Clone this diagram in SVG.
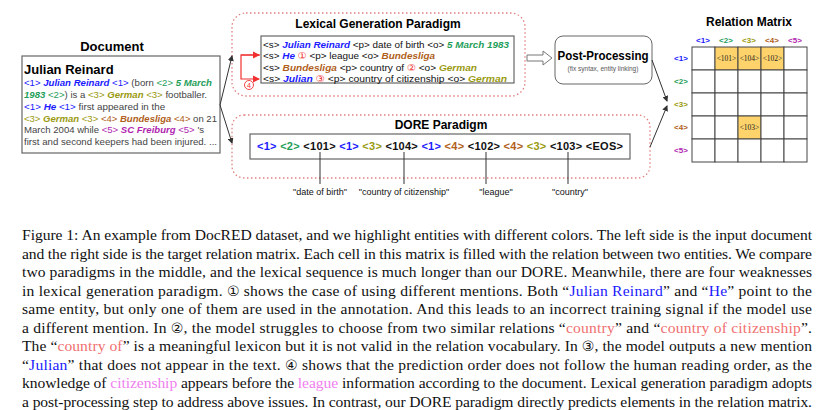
<svg xmlns="http://www.w3.org/2000/svg" width="832" height="410" viewBox="0 0 832 410">
<defs>
<style>
.s{font-family:"Liberation Sans",Arial,sans-serif}
.b{font-weight:bold}
.i{font-style:italic;font-weight:bold}
.bl{fill:#1a1aff}.gr{fill:#1f9e5a}.ol{fill:#9a9a10}.br{fill:#b0601a}.mg{fill:#b01fb0}.gy{fill:#444}
.box{fill:#fff;stroke:#666;stroke-width:1.2}
.dot{fill:none;stroke:#e08080;stroke-width:1.3;stroke-dasharray:1.5 2.5}
.cap{font-family:"Liberation Serif","Times New Roman",serif;font-size:15.6px;fill:#111}
.cell{fill:#fff;stroke:#444;stroke-width:1}
.hl{fill:#ffd36b;stroke:#444;stroke-width:1}
.ln{stroke:#333;stroke-width:1;fill:none}
.red{stroke:#f03030;stroke-width:1.2;fill:none}
</style>
<marker id="ah" markerWidth="6" markerHeight="6" refX="5" refY="3" orient="auto"><path d="M0,0 L6,3 L0,6 z" fill="#333"/></marker>
<marker id="ar" markerWidth="6" markerHeight="6" refX="5" refY="3" orient="auto"><path d="M0,0 L6,3 L0,6 z" fill="#f03030"/></marker>
</defs>
<rect width="832" height="410" fill="#fff"/>

<g id="document" class="s">
<text x="112" y="51" font-size="13" class="b" text-anchor="middle">Document</text>
<rect class="box" x="22" y="56" width="198" height="97"/>
<text x="24" y="74" font-size="13" class="b">Julian Reinard</text>
<g font-size="9.8" fill="#444">
<text x="24" y="86" textLength="188" lengthAdjust="spacingAndGlyphs"><tspan class="bl">&lt;1&gt; </tspan><tspan class="bl i">Julian Reinard</tspan><tspan class="bl"> &lt;1&gt;</tspan> (born <tspan class="gr">&lt;2&gt; </tspan><tspan class="gr i">5 March</tspan></text>
<text x="24" y="98" textLength="183" lengthAdjust="spacingAndGlyphs"><tspan class="gr i">1983</tspan><tspan class="gr"> &lt;2&gt;</tspan>) is a <tspan class="ol">&lt;3&gt; </tspan><tspan class="ol i">German</tspan><tspan class="ol"> &lt;3&gt;</tspan> footballer.</text>
<text x="24" y="110"><tspan class="bl">&lt;1&gt; </tspan><tspan class="bl i">He</tspan><tspan class="bl"> &lt;1&gt;</tspan> first appeared in the</text>
<text x="24" y="122" textLength="193" lengthAdjust="spacingAndGlyphs"><tspan class="ol">&lt;3&gt; </tspan><tspan class="ol i">German</tspan><tspan class="ol"> &lt;3&gt;</tspan> <tspan class="br">&lt;4&gt; </tspan><tspan class="br i">Bundesliga</tspan><tspan class="br"> &lt;4&gt;</tspan> on 21</text>
<text x="24" y="133" textLength="180" lengthAdjust="spacingAndGlyphs">March 2004 while <tspan class="mg">&lt;5&gt; </tspan><tspan class="mg i">SC Freiburg</tspan><tspan class="mg"> &lt;5&gt;</tspan> 's</text>
<text x="24" y="145" textLength="193" lengthAdjust="spacingAndGlyphs">first and second keepers had been injured. ...</text>
</g>
</g>

<g id="lexical" class="s">
<rect class="dot" x="232" y="13" width="293" height="83" rx="14"/>
<text x="378" y="28" font-size="12" class="b" text-anchor="middle">Lexical Generation Paradigm</text>
<rect class="box" x="261" y="36" width="253" height="47"/>
<g font-size="9.5" fill="#111">
<text x="263" y="48" textLength="246" lengthAdjust="spacingAndGlyphs">&lt;s&gt; <tspan class="bl i">Julian Reinard</tspan> &lt;p&gt; date of birth &lt;o&gt; <tspan class="gr i">5 March 1983</tspan></text>
<text x="263" y="59" textLength="172" lengthAdjust="spacingAndGlyphs">&lt;s&gt; <tspan class="bl i">He</tspan> <tspan fill="#f03030" font-family="DejaVu Sans">①</tspan> &lt;p&gt;  league &lt;o&gt; <tspan class="br i">Bundesliga</tspan></text>
<text x="263" y="71" textLength="214" lengthAdjust="spacingAndGlyphs">&lt;s&gt; <tspan class="br i">Bundesliga</tspan>  &lt;p&gt; country of <tspan fill="#f03030" font-family="DejaVu Sans">②</tspan> &lt;o&gt; <tspan class="ol i">German</tspan></text>
<text x="263" y="82" textLength="244" lengthAdjust="spacingAndGlyphs">&lt;s&gt; <tspan class="bl i">Julian</tspan> <tspan fill="#f03030" font-family="DejaVu Sans">③</tspan> &lt;p&gt; country of citizenship &lt;o&gt; <tspan class="ol i">German</tspan></text>
</g>
<path class="red" d="M260,55 H241 V79 H259" marker-end="url(#ar)"/>
<path class="red" d="M241,55 H259" marker-end="url(#ar)"/>
<circle cx="249" cy="85" r="4.5" fill="#fff" stroke="#f03030" stroke-width="0.9"/>
<text x="249" y="88" font-size="7" fill="#f03030" text-anchor="middle">4</text>
</g>

<g id="postprocessing" class="s">
<rect x="555" y="36" width="97" height="48" rx="8" fill="#fff" stroke="#666" stroke-width="1"/>
<text x="603" y="60" font-size="12" class="b" text-anchor="middle" textLength="91" lengthAdjust="spacingAndGlyphs">Post-Processing</text>
<text x="603" y="71" font-size="6.5" fill="#555" text-anchor="middle">(fix syntax, entity linking)</text>
</g>

<g id="dore" class="s">
<rect class="dot" x="232" y="115" width="418" height="63" rx="12"/>
<text x="441" y="129" font-size="12" class="b" text-anchor="middle">DORE Paradigm</text>
<rect class="box" x="250" y="134" width="380" height="25"/>
<text x="257" y="150" font-size="11" fill="#111" class="b" textLength="366" lengthAdjust="spacing"><tspan class="bl">&lt;1&gt;</tspan> <tspan class="gr">&lt;2&gt;</tspan> &lt;101&gt; <tspan class="bl">&lt;1&gt;</tspan> <tspan class="ol">&lt;3&gt;</tspan> &lt;104&gt; <tspan class="bl">&lt;1&gt;</tspan> <tspan class="br">&lt;4&gt;</tspan> &lt;102&gt; <tspan class="br">&lt;4&gt;</tspan> <tspan class="ol">&lt;3&gt;</tspan> &lt;103&gt; &lt;EOS&gt;</text>
<g font-size="9" fill="#111" text-anchor="middle">
<text x="320" y="195">"date of birth"</text>
<text x="404" y="195">"country of citizenship"</text>
<text x="496" y="195">"league"</text>
<text x="570" y="195">"country"</text>
</g>
</g>

<g id="matrix" class="s">
<text x="749" y="26" font-size="12" class="b" text-anchor="middle">Relation Matrix</text>
<g font-size="8" class="b" text-anchor="middle">
<text x="703" y="43" class="bl">&lt;1&gt;</text><text x="726" y="43" class="gr">&lt;2&gt;</text><text x="749" y="43" class="ol">&lt;3&gt;</text><text x="772" y="43" class="br">&lt;4&gt;</text><text x="795" y="43" class="mg">&lt;5&gt;</text>
<text x="681" y="61" class="bl">&lt;1&gt;</text><text x="681" y="84" class="gr">&lt;2&gt;</text><text x="681" y="107" class="ol">&lt;3&gt;</text><text x="681" y="130" class="br">&lt;4&gt;</text><text x="681" y="153" class="mg">&lt;5&gt;</text>
</g>
<g>
<rect class="cell" x="692" y="47" width="23" height="23"/><rect class="hl" x="715" y="47" width="23" height="23"/><rect class="hl" x="738" y="47" width="23" height="23"/><rect class="hl" x="761" y="47" width="23" height="23"/><rect class="cell" x="784" y="47" width="23" height="23"/>
<rect class="cell" x="692" y="70" width="23" height="23"/><rect class="cell" x="715" y="70" width="23" height="23"/><rect class="cell" x="738" y="70" width="23" height="23"/><rect class="cell" x="761" y="70" width="23" height="23"/><rect class="cell" x="784" y="70" width="23" height="23"/>
<rect class="cell" x="692" y="93" width="23" height="23"/><rect class="cell" x="715" y="93" width="23" height="23"/><rect class="cell" x="738" y="93" width="23" height="23"/><rect class="cell" x="761" y="93" width="23" height="23"/><rect class="cell" x="784" y="93" width="23" height="23"/>
<rect class="cell" x="692" y="116" width="23" height="23"/><rect class="cell" x="715" y="116" width="23" height="23"/><rect class="hl" x="738" y="116" width="23" height="23"/><rect class="cell" x="761" y="116" width="23" height="23"/><rect class="cell" x="784" y="116" width="23" height="23"/>
<rect class="cell" x="692" y="139" width="23" height="23"/><rect class="cell" x="715" y="139" width="23" height="23"/><rect class="cell" x="738" y="139" width="23" height="23"/><rect class="cell" x="761" y="139" width="23" height="23"/><rect class="cell" x="784" y="139" width="23" height="23"/>
</g>
<g font-family="Liberation Serif,serif" font-size="7.5" fill="#222" text-anchor="middle">
<text x="726.5" y="61">&lt;101&gt;</text><text x="749.5" y="61">&lt;104&gt;</text><text x="772.5" y="61">&lt;102&gt;</text><text x="749.5" y="130">&lt;103&gt;</text>
</g>
</g>

<g id="connectors">
<path class="ln" d="M220,105 L232,56" marker-end="url(#ah)"/>
<path class="ln" d="M220,105 L232,143" marker-end="url(#ah)"/>
<path d="M527,55 H543 V51 L552,58 L543,65 V61 H527 z" fill="#fff" stroke="#777" stroke-width="1"/>
<path class="ln" d="M652,60 L667,101" marker-end="url(#ah)"/>
<path class="ln" d="M650,147 L667,106" marker-end="url(#ah)"/>
<path class="ln" d="M320,152 V184 M404,152 V184 M486,152 V184 M568,152 V184"/>
</g>

<g id="caption" class="cap">
<text x="22" y="240" textLength="790" lengthAdjust="spacing">Figure 1: An example from DocRED dataset, and we highlight entities with different colors. The left side is the input document</text>
<text x="22" y="258.5" textLength="790" lengthAdjust="spacing">and the right side is the target relation matrix. Each cell in this matrix is filled with the relation between two entities. We compare</text>
<text x="22" y="277" textLength="790" lengthAdjust="spacing">two paradigms in the middle, and the lexical sequence is much longer than our DORE. Meanwhile, there are four weaknesses</text>
<text x="22" y="295.5" textLength="790" lengthAdjust="spacing">in lexical generation paradigm. <tspan font-family="DejaVu Sans" font-size="14">①</tspan> shows the case of using different mentions. Both “<tspan fill="#1a1aff">Julian Reinard</tspan>” and “<tspan fill="#1a1aff">He</tspan>” point to the</text>
<text x="22" y="314" textLength="790" lengthAdjust="spacing">same entity, but only one of them are used in the annotation. And this leads to an incorrect training signal if the model use</text>
<text x="22" y="332.5" textLength="790" lengthAdjust="spacing">a different mention. In <tspan font-family="DejaVu Sans" font-size="14">②</tspan>, the model struggles to choose from two similar relations “<tspan fill="#f07070">country</tspan>” and “<tspan fill="#f07070">country of citizenship</tspan>”.</text>
<text x="22" y="351" textLength="790" lengthAdjust="spacing">The “<tspan fill="#f07070">country of</tspan>” is a meaningful lexicon but it is not valid in the relation vocabulary. In <tspan font-family="DejaVu Sans" font-size="14">③</tspan>, the model outputs a new mention</text>
<text x="22" y="369.5" textLength="790" lengthAdjust="spacing">“<tspan fill="#1a1aff">Julian</tspan>” that does not appear in the text. <tspan font-family="DejaVu Sans" font-size="14">④</tspan> shows that the prediction order does not follow the human reading order, as the</text>
<text x="22" y="388" textLength="790" lengthAdjust="spacing">knowledge of <tspan fill="#f080f0">citizenship</tspan> appears before the <tspan fill="#f080f0">league</tspan> information according to the document. Lexical generation paradigm adopts</text>
<text x="22" y="406.5" textLength="790" lengthAdjust="spacing">a post-processing step to address above issues. In contrast, our DORE paradigm directly predicts elements in the relation matrix.</text>
</g>
</svg>
